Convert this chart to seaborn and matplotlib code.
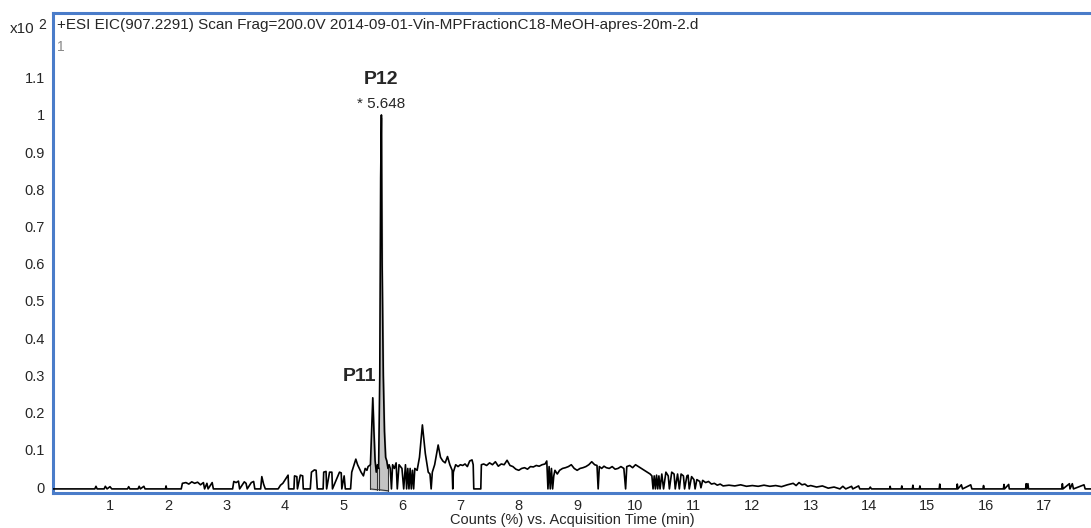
import numpy as np
import pandas as pd
import matplotlib
matplotlib.use("Agg")
import matplotlib.pyplot as plt
import seaborn as sns

# ---- data ----
time_min = [
    0.02, 0.74, 0.76, 0.78, 0.90, 0.92, 0.95, 1.00, 1.03, 1.30, 1.32, 1.34, 1.48, 1.50, 1.52, 1.58, 1.60,
    1.95, 1.96, 1.97, 2.22, 2.24, 2.30, 2.35, 2.40, 2.45, 2.50, 2.55, 2.60, 2.62, 2.66, 2.68, 2.75, 2.77,
    3.10, 3.12, 3.16, 3.20, 3.22, 3.30, 3.33, 3.35, 3.42, 3.46, 3.48, 3.58, 3.60, 3.63, 3.66, 3.88, 3.92,
    3.96, 4.02, 4.05, 4.06, 4.15, 4.16, 4.20, 4.21, 4.26, 4.30, 4.31, 4.43, 4.45, 4.50, 4.53, 4.55, 4.65,
    4.66, 4.70, 4.71, 4.76, 4.80, 4.81, 4.93, 4.96, 4.97, 5.01, 5.03, 5.12, 5.14, 5.18, 5.21, 5.24, 5.27,
    5.30, 5.34, 5.37, 5.40, 5.42, 5.46, 5.48, 5.50, 5.52, 5.54, 5.56, 5.58, 5.60, 5.62, 5.635, 5.648,
    5.66, 5.68, 5.70, 5.72, 5.74, 5.76, 5.78, 5.80, 5.82, 5.84, 5.87, 5.90, 5.92, 5.95, 6.00, 6.03, 6.06,
    6.08, 6.10, 6.12, 6.14, 6.16, 6.18, 6.20, 6.22, 6.26, 6.30, 6.35, 6.40, 6.45, 6.48, 6.50, 6.52, 6.56,
    6.62, 6.66, 6.70, 6.74, 6.78, 6.82, 6.86, 6.87, 6.88, 6.92, 6.96, 7.00, 7.04, 7.08, 7.12, 7.16, 7.20,
    7.22, 7.23, 7.35, 7.36, 7.40, 7.45, 7.50, 7.55, 7.60, 7.65, 7.70, 7.75, 7.80, 7.85, 7.90, 7.95, 8.00,
    8.05, 8.10, 8.15, 8.20, 8.25, 8.30, 8.35, 8.40, 8.45, 8.48, 8.50, 8.52, 8.54, 8.56, 8.58, 8.60, 8.62,
    8.66, 8.70, 8.75, 8.80, 8.85, 8.90, 8.95, 9.00, 9.05, 9.10, 9.15, 9.20, 9.25, 9.30, 9.34, 9.36, 9.38,
    9.42, 9.46, 9.50, 9.55, 9.60, 9.65, 9.70, 9.75, 9.80, 9.83, 9.85, 9.90, 9.95, 10.00, 10.05, 10.10,
    10.15, 10.20, 10.25, 10.28, 10.30, 10.32, 10.34, 10.36, 10.38, 10.40, 10.42, 10.45, 10.48, 10.52,
    10.56, 10.58, 10.62, 10.66, 10.68, 10.72, 10.75, 10.78, 10.82, 10.84, 10.88, 10.90, 10.92, 10.96,
    11.00, 11.02, 11.05, 11.10, 11.12, 11.15, 11.20, 11.25, 11.30, 11.35, 11.40, 11.45, 11.50, 11.60,
    11.70, 11.80, 11.90, 12.00, 12.10, 12.20, 12.30, 12.40, 12.50, 12.60, 12.70, 12.75, 12.80, 12.85,
    12.90, 12.95, 13.00, 13.10, 13.20, 13.30, 13.40, 13.50, 13.55, 13.60, 13.70, 13.72, 13.82, 13.84,
    14.00, 14.02, 14.04, 14.35, 14.36, 14.37, 14.55, 14.56, 14.57, 14.74, 14.75, 14.76, 14.86, 14.87,
    14.88, 15.20, 15.21, 15.22, 15.50, 15.51, 15.52, 15.58, 15.60, 15.74, 15.76, 15.95, 15.96, 15.97,
    16.30, 16.31, 16.32, 16.39, 16.40, 16.68, 16.69, 16.70, 16.72, 16.73, 17.30, 17.31, 17.32, 17.43,
    17.44, 17.48, 17.50, 17.68, 17.70, 17.85,
]
counts_x100 = [
    -0.005, -0.005, 0.002, -0.005, -0.005, 0.002, -0.005, 0.001, -0.005, -0.005, 0.001, -0.005, -0.005, 0.002, -0.005, 0.002, -0.005,
    -0.005, 0.003, -0.005, -0.005, 0.010, 0.012, 0.008, 0.014, 0.010, 0.013, 0.006, 0.012, -0.005, 0.010, -0.005, 0.012, -0.005,
    -0.005, 0.015, 0.012, 0.016, -0.005, 0.014, 0.010, -0.005, 0.012, 0.015, -0.005, -0.005, 0.028, 0.008, -0.005, -0.005, 0.005,
    0.010, 0.025, 0.032, -0.005, -0.005, 0.030, 0.028, -0.005, 0.032, 0.030, -0.005, -0.005, 0.040, 0.046, 0.045, -0.005, -0.005,
    0.040, 0.042, -0.005, 0.040, 0.040, -0.005, 0.040, 0.038, -0.005, 0.030, -0.005, -0.005, 0.040, 0.060, 0.075, 0.060, 0.050,
    0.040, 0.030, 0.050, 0.045, 0.055, 0.060, 0.150, 0.240, 0.150, 0.070, 0.040, 0.060, 0.050, 0.300, 0.830, 1.000,
    0.600, 0.300, 0.150, 0.080, 0.070, 0.050, 0.060, 0.050, -0.005, 0.060, 0.050, 0.065, -0.005, 0.060, 0.050, -0.005, 0.060,
    -0.005, 0.050, -0.005, 0.050, -0.005, 0.045, -0.005, 0.050, 0.045, 0.080, 0.167, 0.090, 0.040, 0.035, -0.005, 0.040, 0.060,
    0.113, 0.080, 0.070, 0.065, 0.082, 0.060, 0.045, -0.005, 0.040, 0.060, 0.055, 0.060, 0.058, 0.062, 0.055, 0.070, 0.073,
    0.060, -0.005, -0.005, 0.060, 0.062, 0.058, 0.065, 0.060, 0.068, 0.056, 0.062, 0.060, 0.072, 0.058, 0.055, 0.048, 0.045,
    0.050, 0.052, 0.048, 0.055, 0.054, 0.058, 0.056, 0.060, 0.062, 0.070, -0.005, 0.055, -0.005, 0.050, -0.005, 0.030, 0.045,
    0.035, 0.045, 0.050, 0.052, 0.055, 0.060, 0.050, 0.045, 0.050, 0.052, 0.055, 0.060, 0.068, 0.060, 0.058, -0.005, 0.055,
    0.050, 0.056, 0.052, 0.050, 0.055, 0.048, 0.050, 0.055, 0.050, -0.005, 0.055, 0.058, 0.052, 0.060, 0.055, 0.050,
    0.045, 0.040, 0.035, 0.030, -0.005, 0.030, -0.005, 0.032, -0.005, 0.030, -0.005, 0.035, -0.005, 0.040,
    0.030, -0.005, 0.040, 0.035, -0.005, 0.035, -0.005, 0.035, 0.030, -0.005, 0.030, 0.032, -0.005, 0.028,
    0.020, -0.005, 0.020, 0.015, -0.002, 0.018, 0.012, 0.015, 0.008, 0.010, 0.005, 0.008, 0.003, 0.005,
    0.003, 0.006, 0.002, 0.004, 0.002, 0.005, 0.002, 0.004, 0.001, 0.006, 0.010, 0.004, 0.012, 0.006,
    0.008, 0.002, 0.004, 0.000, 0.003, -0.003, 0.000, -0.005, 0.002, -0.005, 0.002, -0.005, 0.003, -0.005,
    -0.005, 0.000, -0.005, -0.005, 0.002, -0.005, -0.005, 0.003, -0.005, -0.005, 0.005, -0.005, -0.005, 0.003,
    -0.005, -0.005, 0.008, -0.005, -0.005, 0.008, -0.005, 0.006, -0.005, 0.006, -0.005, -0.005, 0.004, -0.005,
    -0.005, 0.007, -0.005, 0.007, -0.005, -0.005, 0.009, -0.005, 0.009, -0.005, -0.005, 0.009, -0.005, 0.009,
    -0.005, 0.009, -0.005, 0.006, -0.005, -0.005,
]

# integrated peaks (start, end, baseline at start, baseline at end)
peak_names = ["P11", "P12"]
peak_start = [5.46, 5.60]
peak_end = [5.57, 5.76]
peak_base_start = [-0.005, -0.007]
peak_base_end = [-0.007, -0.010]

x_ticks = list(range(1, 18))
y_ticks = [0, 0.1, 0.2, 0.3, 0.4, 0.5, 0.6, 0.7, 0.8, 0.9, 1.0, 1.1]
y_tick_labels = ["0", "0.1", "0.2", "0.3", "0.4", "0.5", "0.6", "0.7", "0.8", "0.9", "1", "1.1"]

title_text = "+ESI EIC(907.2291) Scan Frag=200.0V 2014-09-01-Vin-MPFractionC18-MeOH-apres-20m-2.d"
x_label = "Counts (%) vs. Acquisition Time (min)"
apex_label = "* 5.648"
apex_time = 5.648

# ---- plotting ----
sns.set_style("white")
plt.rcParams["font.family"] = ["Liberation Sans", "DejaVu Sans"]

df = pd.DataFrame({"t": time_min, "c": counts_x100})

fig = plt.figure(figsize=(10.91, 5.28), dpi=100)
ax = fig.add_axes([53 / 1091, 1 - 493 / 528, 1 - 53 / 1091, (493 - 13) / 528])

t_arr = np.array(time_min)
c_arr = np.array(counts_x100)
for s, e, b0, b1 in zip(peak_start, peak_end, peak_base_start, peak_base_end):
    tt = np.linspace(s, e, 200)
    cc = np.interp(tt, t_arr, c_arr)
    base = b0 + (b1 - b0) * (tt - s) / (e - s)
    ax.fill_between(tt, cc, base, color="#c4c4c4", zorder=1)
    ax.plot([s, s], [b0, np.interp(s, t_arr, c_arr)], color="#333333", lw=0.8, zorder=2)
    ax.plot([e, e], [b1, np.interp(e, t_arr, c_arr)], color="#333333", lw=0.8, zorder=2)
    ax.plot([s, e], [b0, b1], color="#333333", lw=0.8, zorder=2)

sns.lineplot(data=df, x="t", y="c", ax=ax, color="black", lw=1.2, sort=False,
             estimator=None, zorder=3)

ax.set_xlim(0.024, 17.8)
ax.set_ylim(-0.016, 1.274)
ax.set_xticks(x_ticks)
ax.set_xticklabels([str(v) for v in x_ticks], fontsize=10.5)
ax.set_yticks(y_ticks)
ax.set_yticklabels(y_tick_labels, fontsize=10.5)
ax.tick_params(axis="both", direction="out", length=4, width=1, color="#444444")
ax.tick_params(axis="x", pad=0.5)
ax.tick_params(axis="y", pad=2)
ax.set_xlabel(x_label, fontsize=10.5)
ax.xaxis.set_label_coords(0.5, -0.041, transform=ax.transAxes)
ax.xaxis.label.set_va("top")
ax.set_ylabel("")

blue = "#4a7cc9"
for side in ["left", "bottom", "top"]:
    ax.spines[side].set_color(blue)
    ax.spines[side].set_linewidth(2.2)
ax.spines["right"].set_visible(False)

ax.text(0.004, 0.975, title_text, transform=ax.transAxes, fontsize=11, ha="left", va="center")
ax.text(0.004, 0.929, "1", transform=ax.transAxes, fontsize=10, color="#888888", ha="left", va="center")

fig.text(10 / 1091, 1 - 29 / 528, "x10", fontsize=11, ha="left", va="center")
fig.text(38 / 1091, 1 - 25 / 528, "2", fontsize=10, ha="left", va="center")

ax.text(apex_time, 1.094, "P12", fontsize=14, fontweight="bold", ha="center", va="center")
ax.text(apex_time, 1.03, apex_label, fontsize=11, ha="center", va="center")
ax.text(5.28, 0.296, "P11", fontsize=14, fontweight="bold", ha="center", va="center")

fig.savefig("out.png", dpi=100)
